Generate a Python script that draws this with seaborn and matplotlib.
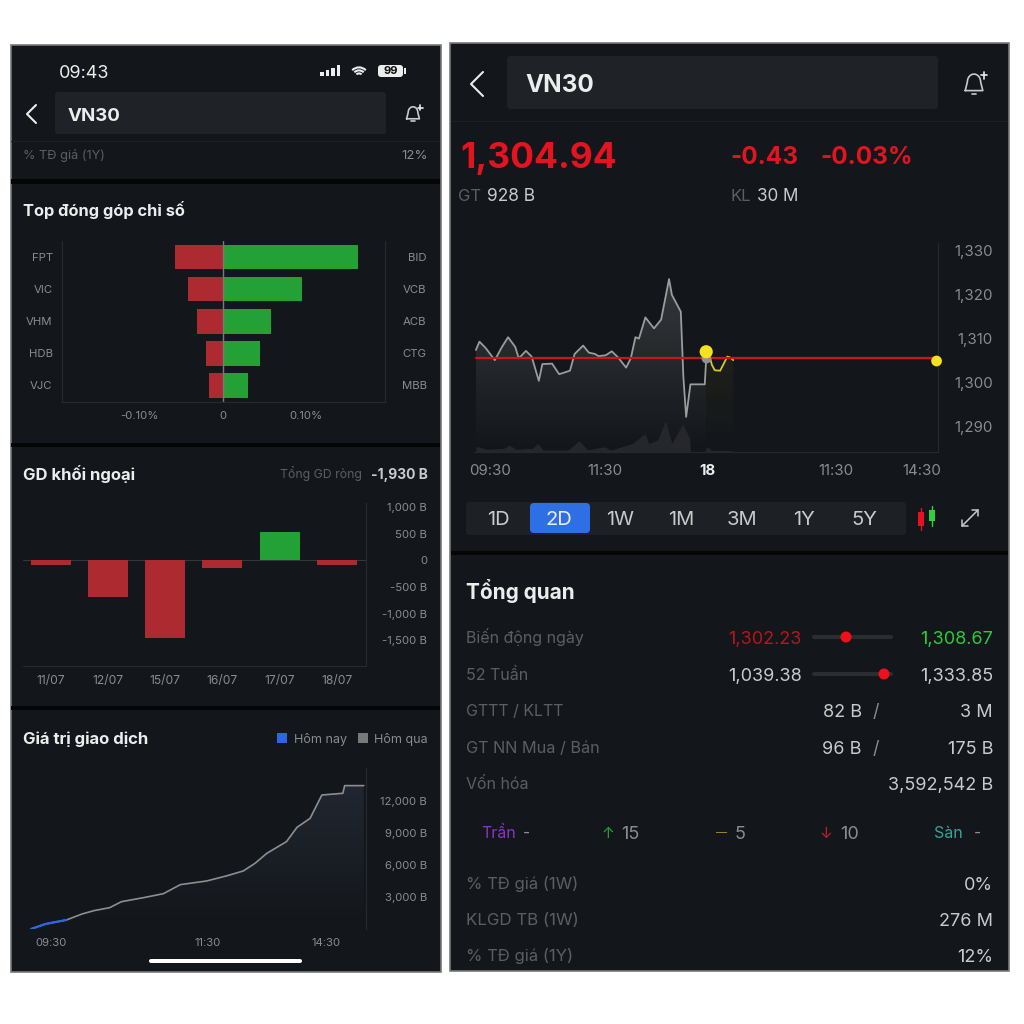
import numpy as np
import pandas as pd
import matplotlib.pyplot as plt
import seaborn as sns
from matplotlib.patches import Rectangle, FancyBboxPatch, Arc, Circle

# =========================================================
# Data
# =========================================================
contrib_down_names = ["FPT", "VIC", "VHM", "HDB", "VJC"]
contrib_down = [-0.057, -0.042, -0.031, -0.020, -0.017]
contrib_up_names = ["BID", "VCB", "ACB", "CTG", "MBB"]
contrib_up = [0.163, 0.095, 0.058, 0.045, 0.030]
contrib_ticks = [-0.10, 0, 0.10]
contrib_tick_labels = ["-0.10%", "0", "0.10%"]

foreign_dates = ["11/07", "12/07", "15/07", "16/07", "17/07", "18/07"]
foreign_net = [-85, -690, -1465, -150, 540, -80]
foreign_ticks = [1000, 500, 0, -500, -1000, -1500]
foreign_tick_labels = ["1,000 B", "500 B", "0", "-500 B", "-1,000 B", "-1,500 B"]

# minutes of trading after 09:30
value_minutes = [-15, -4, 12, 24, 33, 45, 54, 71, 86, 99, 119, 134, 147, 156,
                 165, 180, 188, 198, 207, 223, 224.4, 239]
value_yesterday = [30, 500, 875, 1440, 1750, 2030, 2590, 2970, 3340, 4190, 4530,
                   5000, 5470, 6190, 7125, 8220, 9560, 10400, 12590, 12750,
                   13470, 13470]
today_minutes = [-15, -4, 12]
value_today = [30, 500, 875]
value_ticks = [3000, 6000, 9000, 12000]
value_tick_labels = ["3,000 B", "6,000 B", "9,000 B", "12,000 B"]
value_x_ticks = [0, 120, 210]
value_x_labels = ["09:30", "11:30", "14:30"]

# minutes of trading since the first session opened
price_minutes = [0, 3.7, 10.4, 19.8, 27.3, 33.7, 41.2, 44.9, 52.4, 58.4, 65.9,
                 69.6, 79.8, 87.2, 98.5, 103.4, 112.3, 118.3, 124.7, 128.4, 136,
                 142.3, 149, 157.3, 162.2, 167.1, 170.8, 177.5, 186.5, 194, 202.3,
                 205.3, 209, 214.6, 217.3, 220.2, 224.7, 239.7, 241.2]
price_prev = [1307.3, 1309.2, 1307.7, 1305.0, 1308.0, 1310.2, 1308.0, 1305.4,
              1307.1, 1305.8, 1300.3, 1304.1, 1304.2, 1301.8, 1302.6, 1306.4,
              1308.3, 1306.7, 1306.4, 1305.9, 1306.1, 1307.0, 1305.6, 1303.3,
              1305.4, 1310.2, 1309.9, 1314.7, 1312.2, 1314.2, 1323.4, 1319.8,
              1318.3, 1316.0, 1301.2, 1292.1, 1299.5, 1299.5, 1305.4]
today_price_minutes = [241.2, 244.6, 247.2, 250.2, 255.8, 259.6, 263.3, 266.3, 269.6]
price_today = [1306.9, 1306.1, 1303.9, 1302.7, 1302.6, 1304.2, 1305.8, 1305.6, 1305.0]
reference_price = 1305.5
close_minute = 482.5
close_price = 1304.8
volume_minutes = [0, 3, 10.4, 29.2, 34.8, 42.3, 59.2, 64.8, 70.4, 96.7, 107.9,
                  117.2, 134, 141.6, 164, 177.2, 180.9, 190.3, 198.5, 205.3,
                  216.5, 224, 224.7]
volume_prev = [5, 5, 2.3, 3.3, 6.7, 2.3, 3.3, 8.3, 1.7, 1.7, 11, 1.7, 5, 1.7,
               8.3, 18.3, 8.3, 11.7, 31, 8.3, 28, 13, 0]
volume_today_minutes = [239.7, 242, 246.5, 268.9]
volume_today = [0, 5, 1.5, 1]
price_ticks = [1290, 1300, 1310, 1320, 1330]
price_tick_labels = ["1,290", "1,300", "1,310", "1,320", "1,330"]
price_x_ticks = [15, 135, 242, 377, 467]
price_x_labels = ["09:30", "11:30", "18", "11:30", "14:30"]

range_labels = ["1D", "2D", "1W", "1M", "3M", "1Y", "5Y"]

# =========================================================
# Style
# =========================================================
BG = "#13161a"
RED = "#ad2a30"
GREEN = "#23a136"
MUTED = "#8a8c8e"
DIM = "#5c5f62"
LIGHT = "#c9cacb"
WHITE = "#eceded"
GRID = "#262a2e"
PRICE_RED = "#e3141f"

sns.set_theme(style="dark")
plt.rcParams["font.family"] = ["Inter", "Noto Sans", "DejaVu Sans"]
plt.rcParams["axes.facecolor"] = "none"

fig = plt.figure(figsize=(10.24, 10.24), dpi=100, facecolor="white")


def add_ax(left, top, right, bottom):
    ax = fig.add_axes([left / 1024, 1 - bottom / 1024, (right - left) / 1024, (bottom - top) / 1024])
    ax.patch.set_alpha(0)
    return ax


def style_ax(ax, size=8.2, color=MUTED, pad_x=6.5):
    ax.set_xlabel("")
    ax.set_ylabel("")
    ax.tick_params(length=0, labelsize=size, labelcolor=color)
    ax.tick_params(axis="x", pad=pad_x)
    ax.grid(False)
    for s in ax.spines.values():
        s.set_color(GRID)
        s.set_linewidth(0.8)
        s.set_visible(False)


def gradient_fill(ax, x, y, rgb, alpha_top, y0, y_top):
    poly = ax.fill_between(x, y, y0, color="none", lw=0)
    grad = np.zeros((256, 1, 4))
    grad[:, :, :3] = rgb
    grad[:, :, 3] = np.linspace(0, alpha_top, 256)[:, None]
    im = ax.imshow(grad, extent=[min(x), max(x), y0, y_top], origin="lower",
                   aspect="auto", zorder=1)
    im.set_clip_path(poly.get_paths()[0], transform=ax.transData)


# =========================================================
# Page: panels, text and icons, in pixel positions
# =========================================================
page = fig.add_axes([0, 0, 1, 1])
page.set_xlim(0, 1024)
page.set_ylim(1024, 0)
page.set_axis_off()


def label(x, y, s, size=10.0, color=LIGHT, ha="left", weight="normal"):
    # y is the middle of the capitals, so accents do not move the text
    page.text(x, y + 0.505 * size, s, fontsize=size, color=color, ha=ha, va="baseline",
              fontweight=weight, zorder=4)


def box(x0, y0, x1, y1, color, z=1):
    page.add_patch(Rectangle((x0, y0), x1 - x0, y1 - y0, fc=color, ec="none", zorder=z))


def chevron(x, y, h):
    page.plot([x + h, x, x + h], [y - h, y, y + h], color=WHITE, lw=1.5, zorder=3)


def bell(x, y, k):
    t = np.linspace(np.pi, 0, 30)
    xs = [x - 8 * k] + list(x + 6 * k * np.cos(t)) + [x + 8 * k, x - 8 * k]
    ys = [y + 6 * k] + list(y - 2 * k - 7 * k * np.sin(t)) + [y + 6 * k, y + 6 * k]
    page.plot(xs, ys, color=LIGHT, lw=1.2, zorder=3)
    page.plot([x - 2 * k, x + 2 * k], [y + 9 * k, y + 9 * k], color=LIGHT, lw=1.2, zorder=3)
    page.plot([x + 6 * k, x + 12 * k], [y - 8 * k, y - 8 * k], color=WHITE, lw=1.2, zorder=3)
    page.plot([x + 9 * k, x + 9 * k], [y - 11 * k, y - 5 * k], color=WHITE, lw=1.2, zorder=3)


# panels
page.add_patch(Rectangle((10.5, 45), 430, 926.5, fc=BG, ec="#77797b", lw=1.2))
page.add_patch(Rectangle((450, 43), 558.5, 928, fc=BG, ec="#77797b", lw=1.2))

# left screenshot
label(59, 71, "09:43", 13, WHITE)
for i, h in enumerate([4, 6, 8.5, 11]):
    box(320 + i * 5.6, 76 - h, 323.6 + i * 5.6, 76, WHITE, 3)
for r in [6, 11, 16]:
    page.add_patch(Arc((359, 77), r * 1.2, r * 1.2, theta1=225, theta2=315, color=WHITE, lw=1.5, zorder=3))
page.add_patch(FancyBboxPatch((378, 65), 25, 12, boxstyle="round,pad=0,rounding_size=3", fc=WHITE, ec="none", zorder=3))
box(404, 68, 406, 74, WHITE, 3)
page.text(390.5, 71, "99", fontsize=8, color="#111111", ha="center", va="center", fontweight="bold", zorder=4)
chevron(27, 114, 9)
page.add_patch(FancyBboxPatch((55, 92), 331, 42, boxstyle="round,pad=0,rounding_size=3", fc="#1f2226", ec="none"))
label(68, 114, "VN30", 13.5, WHITE, weight="bold")
bell(413, 114, 0.8)
box(11, 141, 440, 142, "#1d2024")
label(23, 154, "% TĐ giá (1Y)", 9.2, DIM)
label(428, 154, "12%", 9.5, MUTED, ha="right")
box(11, 179, 440, 184, "#050506")
label(23, 210, "Top đóng góp chỉ số", 11.8, WHITE, weight="bold")
box(11, 443, 440, 447, "#050506")
label(23, 474, "GD khối ngoại", 12, WHITE, weight="bold")
label(362, 474, "Tổng GD ròng", 8.8, DIM, ha="right")
label(428, 474, "-1,930 B", 10, LIGHT, ha="right", weight="bold")
box(11, 706, 440, 710, "#050506")
label(23, 738, "Giá trị giao dịch", 12, WHITE, weight="bold")
box(277, 733, 287, 743, "#2b66e8", 3)
label(294, 738, "Hôm nay", 9, MUTED)
box(358, 733, 368, 743, "#77797b", 3)
label(374, 738, "Hôm qua", 9, MUTED)
page.add_patch(FancyBboxPatch((149, 959), 153, 4, boxstyle="round,pad=0,rounding_size=2", fc="white", ec="none", zorder=3))

# right screenshot
chevron(471, 84, 12)
page.add_patch(FancyBboxPatch((507, 56), 431, 53, boxstyle="round,pad=0,rounding_size=4", fc="#1f2226", ec="none"))
label(525, 83, "VN30", 17.5, WHITE, weight="bold")
bell(974, 84, 1.1)
box(451, 121, 1008, 122, "#1d2024")
label(460, 155, "1,304.94", 25.5, PRICE_RED, weight="bold")
label(730, 155, "-0.43", 17.5, PRICE_RED, weight="bold")
label(820, 155, "-0.03%", 17.5, PRICE_RED, weight="bold")
label(458, 195, "GT", 12, DIM)
label(487, 195, "928 B", 12.5, LIGHT)
label(730, 195, "KL", 12, DIM)
label(757, 195, "30 M", 12.3, LIGHT)

page.add_patch(FancyBboxPatch((466, 502), 440, 33, boxstyle="round,pad=0,rounding_size=3", fc="#1d2024", ec="none"))
page.add_patch(FancyBboxPatch((530, 503), 60, 30, boxstyle="round,pad=0,rounding_size=4", fc="#2f6fe6", ec="none", zorder=2))
for i, s in enumerate(range_labels):
    label(498 + i * 61.1, 518, s, 14.5, WHITE if s == "2D" else LIGHT, ha="center")
page.plot([921, 921], [508, 530], color="#e3141f", lw=1, zorder=3)
box(918, 512, 924, 526, "#e3141f", 3)
page.plot([932, 932], [506, 526], color="#2fd13f", lw=1, zorder=3)
box(929, 510, 935, 521, "#2fd13f", 3)
page.plot([962, 978], [526, 510], color=LIGHT, lw=1.1, zorder=3)
page.plot([972, 978, 978], [510, 510, 516], color=LIGHT, lw=1.1, zorder=3)
page.plot([962, 962, 968], [520, 526, 526], color=LIGHT, lw=1.1, zorder=3)
box(451, 551, 1008, 555, "#050506")

VAL = 13
label(466, 591, "Tổng quan", 15, WHITE, weight="bold")
label(466, 637, "Biến động ngày", 11.5, DIM)
label(802, 637, "1,302.23", VAL, "#b8141c", ha="right")
label(993, 637, "1,308.67", VAL, "#2cc93a", ha="right")
label(466, 674, "52 Tuần", 11.5, DIM)
label(802, 674, "1,039.38", VAL, LIGHT, ha="right")
label(993, 674, "1,333.85", VAL, LIGHT, ha="right")
for y, dot in [(637, 846), (674, 884)]:
    page.plot([814, 891], [y, y], color="#2a2e33", lw=3, solid_capstyle="round", zorder=2)
    page.add_patch(Circle((dot, y), 5.5, fc="#f0101c", ec="none", zorder=3))
label(466, 710, "GTTT / KLTT", 11.5, DIM)
label(862, 710, "82 B", VAL, LIGHT, ha="right")
label(876, 710, "/", VAL, MUTED, ha="center")
label(993, 710, "3 M", VAL, LIGHT, ha="right")
label(466, 747, "GT NN Mua / Bán", 11.7, DIM)
label(862, 747, "96 B", VAL, LIGHT, ha="right")
label(876, 747, "/", VAL, MUTED, ha="center")
label(993, 747, "175 B", VAL, LIGHT, ha="right")
label(466, 783, "Vốn hóa", 11.5, DIM)
label(993, 783, "3,592,542 B", VAL, LIGHT, ha="right")

label(481, 832, "Trần", 11.5, "#8a35c9")
label(523, 832, "-", 11, MUTED)
label(608, 832, "↑", 11, "#23a136", ha="center")
label(621, 832, "15", 13, MUTED)
label(722, 832, "—", 8, "#a39c1c", ha="center")
label(735, 832, "5", 13, MUTED)
label(826, 832, "↓", 11, "#c4202a", ha="center")
label(840, 832, "10", 13, MUTED)
label(934, 832, "Sàn", 11.5, "#3aa39a")
label(974, 832, "-", 11, MUTED)

label(466, 883, "% TĐ giá (1W)", 12, DIM)
label(993, 883, "0%", VAL, LIGHT, ha="right")
label(466, 919, "KLGD TB (1W)", 12.2, DIM)
label(993, 919, "276 M", VAL, LIGHT, ha="right")
label(466, 955, "% TĐ giá (1Y)", 12, DIM)
label(993, 955, "12%", VAL, LIGHT, ha="right")

# =========================================================
# Chart 1: top contributors
# =========================================================
ax = add_ax(62, 241, 385, 402)
sns.barplot(x=contrib_down, y=contrib_down_names, color=RED, saturation=1, width=0.78,
            edgecolor="none", linewidth=0, ax=ax)
sns.barplot(x=contrib_up, y=contrib_down_names, color=GREEN, saturation=1, width=0.78,
            edgecolor="none", linewidth=0, ax=ax)
ax.axvline(0, color="#77797b", lw=1)
ax.set_xlim(-0.1936, 0.1955)
ax.set_ylim(4.53, -0.5)
ax.set_xticks(contrib_ticks, contrib_tick_labels)
style_ax(ax)
ax.tick_params(axis="y", pad=6.7)
for side in ["left", "right", "bottom"]:
    ax.spines[side].set_visible(True)
right = ax.twinx()
right.patch.set_alpha(0)
ax.yaxis.tick_left()
right.set_ylim(4.53, -0.5)
right.set_yticks(range(5), contrib_up_names)
style_ax(right)
right.tick_params(axis="y", pad=30)
for t in right.get_yticklabels():
    t.set_ha("right")

# =========================================================
# Chart 2: foreign net trading
# =========================================================
foreign_df = pd.DataFrame({"date": foreign_dates, "net": foreign_net})
foreign_df["side"] = np.where(foreign_df["net"] > 0, "buy", "sell")
ax = add_ax(22.7, 503, 366, 665.7)
sns.barplot(data=foreign_df, x="date", y="net", hue="side", dodge=False, legend=False,
            palette={"buy": GREEN, "sell": RED}, saturation=1, width=0.7,
            edgecolor="none", linewidth=0, ax=ax)
ax.axhline(0, color="#33373b", lw=0.8, zorder=0)
ax.set_xlim(-0.49, 5.51)
ax.set_ylim(-1981, 1077)
ax.yaxis.tick_right()
ax.set_yticks(foreign_ticks, foreign_tick_labels)
style_ax(ax)
ax.tick_params(axis="x", labelsize=8.7)
ax.tick_params(axis="y", pad=44)
for t in ax.get_yticklabels():
    t.set_ha("right")
ax.spines["right"].set_visible(True)
ax.spines["bottom"].set_visible(True)

# =========================================================
# Chart 3: traded value
# =========================================================
ax = add_ax(22.7, 768, 366, 929.3)
gradient_fill(ax, value_minutes, value_yesterday, (0.5, 0.62, 0.8), 0.13, 0, 13470)
sns.lineplot(x=value_minutes, y=value_yesterday, color="#8c8e90", lw=1.2, sort=False,
             estimator=None, errorbar=None, ax=ax, zorder=3)
sns.lineplot(x=today_minutes, y=value_today, color="#2b66e8", lw=1.6, sort=False,
             estimator=None, errorbar=None, ax=ax, zorder=4)
ax.set_xlim(-21.4, 240.7)
ax.set_ylim(0, 15122)
ax.yaxis.tick_right()
ax.set_xticks(value_x_ticks, value_x_labels)
ax.set_yticks(value_ticks, value_tick_labels)
style_ax(ax)
ax.tick_params(axis="y", pad=44)
for t in ax.get_yticklabels():
    t.set_ha("right")
ax.spines["right"].set_visible(True)

# =========================================================
# Main chart: VN30 price, two sessions
# =========================================================
ax = add_ax(474, 243, 938, 451.7)
y_low, y_high = 1284.2, 1331.6
gradient_fill(ax, price_minutes, price_prev, (1, 1, 1), 0.15, y_low, 1324)
gradient_fill(ax, today_price_minutes, price_today, (0.9, 0.8, 0.2), 0.06, y_low, 1307)
sns.lineplot(x=price_minutes, y=price_prev, color="#9a9c9e", lw=1.3, sort=False,
             estimator=None, errorbar=None, ax=ax, zorder=3)
sns.lineplot(x=today_price_minutes, y=price_today, color="#d8c52a", lw=1.3, sort=False,
             estimator=None, errorbar=None, ax=ax, zorder=3)
ax.plot([price_minutes[0], close_minute], [reference_price, reference_price],
        color="#d0121e", lw=1.6, zorder=4)
sns.scatterplot(x=[price_minutes[-1]], y=[price_prev[-1]], color="#8f9194", s=50, lw=0, ax=ax,
                zorder=5, clip_on=False)
sns.scatterplot(x=[today_price_minutes[0], close_minute], y=[price_today[0], close_price],
                color="#f7e11c", size=[90, 60], sizes=(60, 90), legend=False, lw=0, ax=ax,
                zorder=6, clip_on=False)
ax.set_xlim(-2, 484)
ax.set_ylim(y_low, y_high)

vol = ax.twinx()
vol.patch.set_alpha(0)
vol.fill_between(volume_minutes, volume_prev, 0, color="#25272c", lw=0)
vol.fill_between(volume_today_minutes, volume_today, 0, color="#25272c", lw=0)
vol.set_ylim(0, 208.7)
vol.set_yticks([])
vol.grid(False)
for s in vol.spines.values():
    s.set_visible(False)

# twinx moves the ticks of ax to the left, so they go back here
ax.yaxis.tick_right()
ax.set_xticks(price_x_ticks, price_x_labels)
ax.set_yticks(price_ticks, price_tick_labels)
style_ax(ax, size=10.8, color=MUTED, pad_x=9)
ax.tick_params(axis="y", pad=39.6)
for t in ax.get_yticklabels():
    t.set_ha("right")
ax.get_xticklabels()[2].set_fontweight("bold")
ax.get_xticklabels()[2].set_color(WHITE)
ax.spines["right"].set_visible(True)
ax.spines["bottom"].set_visible(True)

fig.savefig("out.png", dpi=100)
